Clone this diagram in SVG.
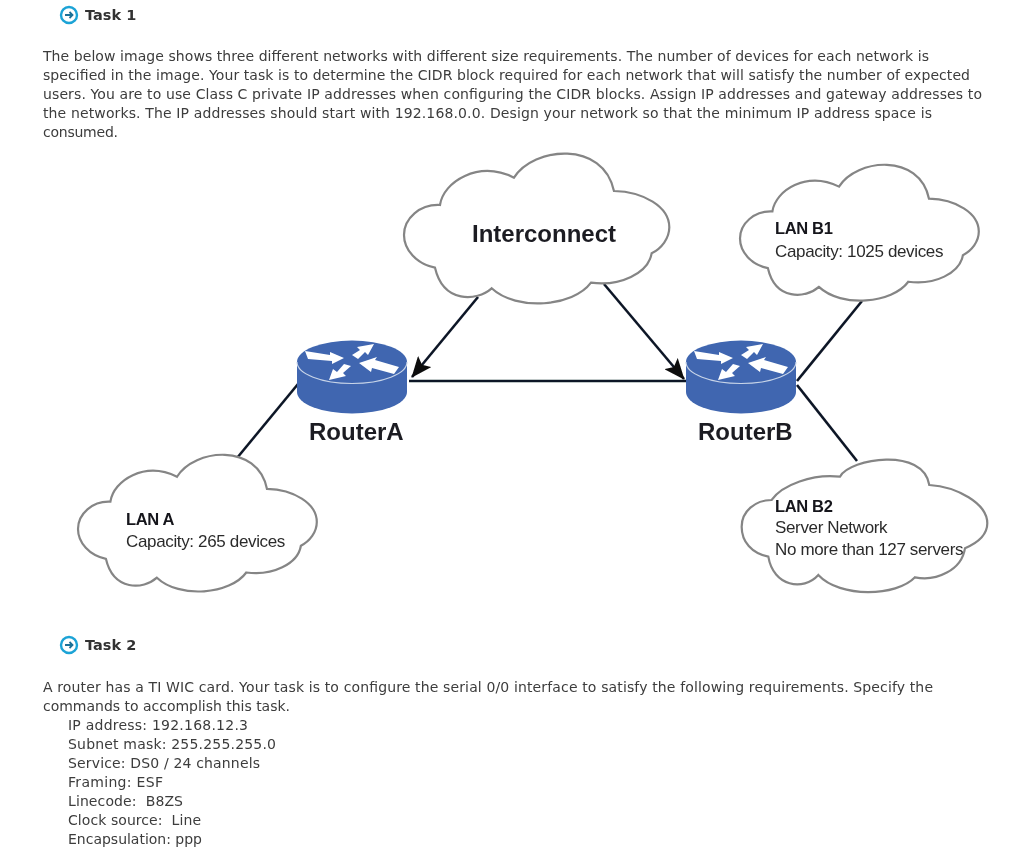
<svg xmlns="http://www.w3.org/2000/svg" width="1024" height="852" viewBox="0 0 1024 852">
<style>
.b{font:14px "DejaVu Sans",Verdana,sans-serif;fill:#3c3c3c}
.h{font:bold 14.5px "DejaVu Sans",Verdana,sans-serif;fill:#333}
.c{fill:#fff;stroke:#858585;stroke-width:2.2;vector-effect:non-scaling-stroke}
.l{font:17px "Liberation Sans",Arial,sans-serif;fill:#2c2c2c;letter-spacing:-.35px}
.lb{font:bold 16.5px "Liberation Sans",Arial,sans-serif;fill:#14141a;letter-spacing:-.35px}
.n{font:bold 24px "Liberation Sans",Arial,sans-serif;fill:#1e1e24}
.w{stroke:#101828;stroke-width:2.6;fill:none}
.a{fill:#fff}
.top{fill:#3f66b0}
.rim{fill:none;stroke:#c8d4e8;stroke-width:1.2}
.body{fill:#3f66b0}
.ic{fill:#fff;stroke:#1ba3d6;stroke-width:2.4}
</style>
<defs>
<filter id="soft" filterUnits="userSpaceOnUse" x="0" y="0" width="1024" height="852"><feGaussianBlur stdDeviation="0.4"/></filter>
<marker id="ah" markerUnits="userSpaceOnUse" viewBox="0 0 24 20" markerWidth="21" markerHeight="17.500" refX="23" refY="10" orient="auto"><path d="M0 0L24 10L0 20L5 10Z" fill="#101010"/></marker>
<path id="cloud" class="c" d="M150 195C160 125 265 60 372 113C430 20 640 0 672 153C760 155 838 200 838 262C838 295 815 325 785 340C775 400 690 440 603 428C550 500 380 515 305 445C260 485 160 490 135 383C80 372 42 330 42 285C42 235 90 192 150 195Z"/>
<g id="arrows">
<path class="a" d="M-47-11L-22-7L-22-10L-8-4L-20 2L-20-1L-44-3Z"/>
<path class="a" d="M0-7L8-12L5-15L22-18L16-7L13-10L6-3Z"/>
<path class="a" d="M-1 4L-9 11L-6 14L-23 18L-19 7L-15 10L-8 2Z"/>
<path class="a" d="M47 5L23-2L25-5L7 1L19 10L20 6L42 12Z"/>
</g>
<g id="router">
<path class="body" d="M-55 0V30A55 21.500 0 0 0 55 30V0Z"/>
<ellipse class="top" cx="0" cy="0" rx="55" ry="21.500"/>
<path class="rim" d="M-55 0A55 21.500 0 0 0 55 0"/>
<use href="#arrows"/>
</g>
</defs>
<rect width="1024" height="852" fill="#fff"/>
<g filter="url(#soft)">
<g id="task1-heading">
<circle class="ic" cx="69" cy="15" r="8"/>
<path d="M65 15H72M69.500 12L72.500 15L69.500 18" fill="none" stroke="#1a6f96" stroke-width="1.800"/>
<text class="h" x="85" y="20">Task 1</text>
</g>
<g id="task1-text">
<text class="b" x="43" y="61" textLength="886">The below image shows three different networks with different size requirements. The number of devices for each network is</text>
<text class="b" x="43" y="80" textLength="927">specified in the image. Your task is to determine the CIDR block required for each network that will satisfy the number of expected</text>
<text class="b" x="43" y="99" textLength="939">users. You are to use Class C private IP addresses when configuring the CIDR blocks. Assign IP addresses and gateway addresses to</text>
<text class="b" x="43" y="118" textLength="889">the networks. The IP addresses should start with 192.168.0.0. Design your network so that the minimum IP address space is</text>
<text class="b" x="43" y="137" textLength="75">consumed.</text>
</g>

<g id="connectors">
<path class="w" d="M298 384L237 458"/>
<path class="w" d="M478 297L412 377" marker-end="url(#ah)"/>
<path class="w" d="M604 284L684 379" marker-end="url(#ah)"/>
<path class="w" d="M409 381H686"/>
<path class="w" d="M797 381L862 301"/>
<path class="w" d="M797 385L857 461"/>
</g>

<g id="interconnect">
<use href="#cloud" transform="translate(390 140) scale(.3333)"/>
<text class="n" x="472" y="242">Interconnect</text>
</g>
<g id="lan-b1">
<use href="#cloud" transform="translate(727.400 152.500) scale(.3 .302)"/>
<text class="lb" x="775" y="234">LAN B1</text>
<text class="l" x="775" y="257">Capacity: 1025 devices</text>
</g>
<g id="lan-a">
<use href="#cloud" transform="translate(65.400 442.400) scale(.3 .304)"/>
<text class="lb" x="126" y="525">LAN A</text>
<text class="l" x="126" y="547">Capacity: 265 devices</text>
</g>
<g id="lan-b2">
<path class="c" transform="translate(670 330) scale(.3333)" d="M305 510C335 465 430 430 510 440C540 385 760 350 778 465C860 470 952 520 952 580C952 615 920 640 885 655C875 720 800 755 735 742C680 800 510 805 445 735C400 785 310 770 295 680C245 670 215 635 215 590C215 545 255 510 305 510Z"/>
<text class="lb" x="775" y="512">LAN B2</text>
<text class="l" x="775" y="533">Server Network</text>
<text class="l" x="775" y="555">No more than 127 servers</text>
</g>

<g id="router-a">
<use href="#router" x="352" y="362"/>
<text class="n" x="309" y="440">RouterA</text>
</g>
<g id="router-b">
<use href="#router" x="741" y="362"/>
<text class="n" x="698" y="440">RouterB</text>
</g>

<g id="task2-heading">
<circle class="ic" cx="69" cy="645" r="8"/>
<path d="M65 645H72M69.500 642L72.500 645L69.500 648" fill="none" stroke="#1a6f96" stroke-width="1.800"/>
<text class="h" x="85" y="650">Task 2</text>
</g>
<g id="task2-text">
<text class="b" x="43" y="691.500" textLength="890">A router has a TI WIC card. Your task is to configure the serial 0/0 interface to satisfy the following requirements. Specify the</text>
<text class="b" x="43" y="710.500" textLength="247">commands to accomplish this task.</text>
<text class="b" x="68" y="729.500" textLength="180">IP address: 192.168.12.3</text>
<text class="b" x="68" y="748.500" textLength="208">Subnet mask: 255.255.255.0</text>
<text class="b" x="68" y="767.500" textLength="192">Service: DS0 / 24 channels</text>
<text class="b" x="68" y="786.500" textLength="95">Framing: ESF</text>
<text class="b" x="68" y="805.500" textLength="115" xml:space="preserve">Linecode:  B8ZS</text>
<text class="b" x="68" y="824.500" textLength="133" xml:space="preserve">Clock source:  Line</text>
<text class="b" x="68" y="843.500" textLength="134">Encapsulation: ppp</text>
</g>
</g>
</svg>
